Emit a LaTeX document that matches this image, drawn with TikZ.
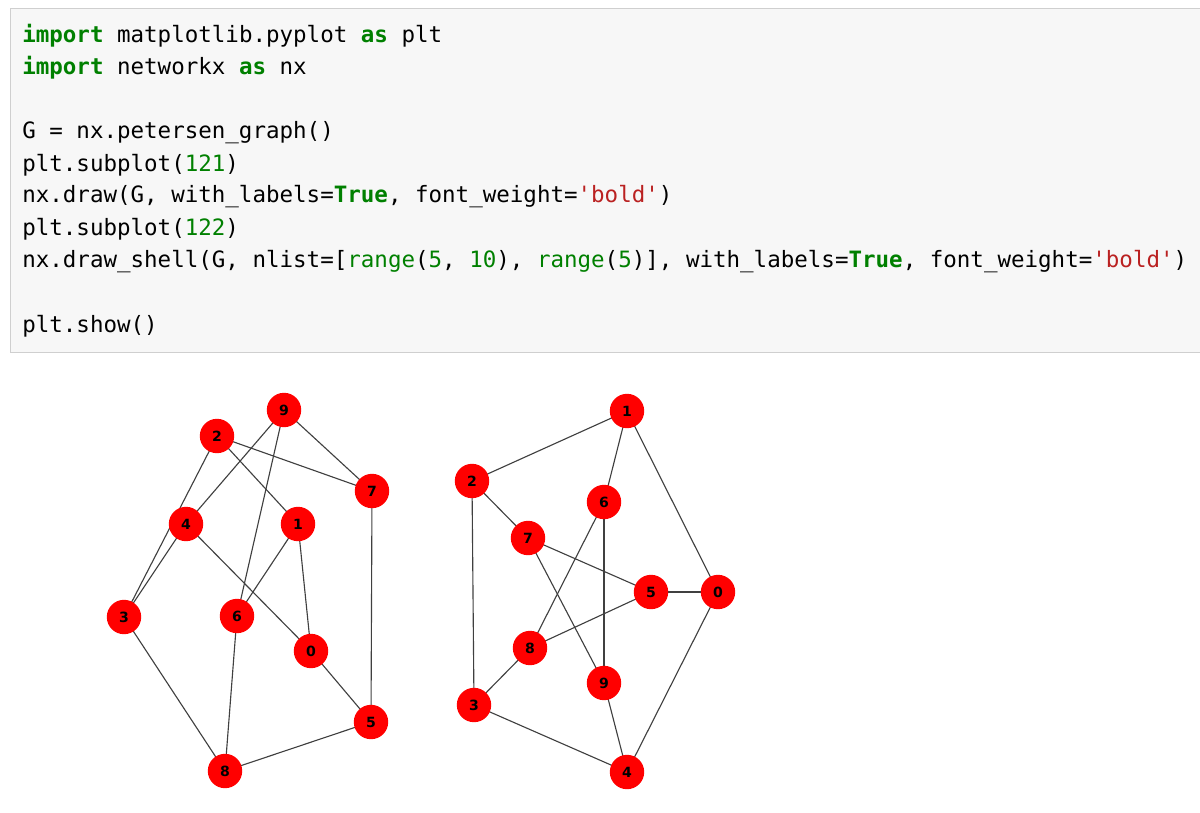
\documentclass[tikz,border=0pt]{standalone}
\usepackage{fontspec}
\setmonofont{DejaVu Sans Mono}
\setsansfont{DejaVu Sans}
\usetikzlibrary{positioning,backgrounds}
\definecolor{kw}{HTML}{008000}
\definecolor{str}{HTML}{BA2121}
\definecolor{cellbg}{HTML}{F7F7F7}
\definecolor{cellrule}{HTML}{CFCFCF}
\newcommand{\kw}[1]{\textcolor{kw}{\bfseries #1}}
\newcommand{\num}[1]{\textcolor{kw}{#1}}
\newcommand{\str}[1]{\textcolor{str}{#1}}

\begin{document}
\begin{tikzpicture}[x=0.025cm, y=-0.025cm]
\tikzset{
   codeline/.style = {anchor = west, inner sep = 0pt, font = \ttfamily\fontsize{16}{16}\selectfont},
   vertex/.style = {circle, fill = red, minimum size = 0.86cm, inner sep = 0pt, font = \sffamily\bfseries\fontsize{10}{10}\selectfont},
   link/.style = {draw = black!75, line width = 0.8pt}
 }
  \useasboundingbox (0,0) rectangle (1200,812);
  \draw[fill = cellbg, draw = cellrule] (10,8) rectangle (1210,352);

  % code cell
  \node[codeline] (l1) at (22,36) {\kw{import} matplotlib.pyplot \kw{as} plt};
  \node[codeline] (l2) at (22,68) {\kw{import} networkx \kw{as} nx};
  \node[codeline] (l3) at (22,133) {G = nx.petersen\_graph()};
  \node[codeline] (l4) at (22,165) {plt.subplot(\num{121})};
  \node[codeline] (l5) at (22,197) {nx.draw(G, with\_labels=\kw{True}, font\_weight=\str{\textquotesingle bold\textquotesingle})};
  \node[codeline] (l6) at (22,229) {plt.subplot(\num{122})};
  \node[codeline] (l7) at (22,262) {nx.draw\_shell(G, nlist=[\num{range}(\num{5}, \num{10}), \num{range}(\num{5})], with\_labels=\kw{True}, font\_weight=\str{\textquotesingle bold\textquotesingle})};
  \node[codeline] (l8) at (22,326) {plt.show()};

  % spring layout
  \node[vertex] (a9) at (284,410) {9};
  \node[vertex] (a2) at (217,436) {2};
  \node[vertex] (a7) at (372,491) {7};
  \node[vertex] (a4) at (186,524) {4};
  \node[vertex] (a1) at (298,524) {1};
  \node[vertex] (a3) at (124,617) {3};
  \node[vertex] (a6) at (237,616) {6};
  \node[vertex] (a0) at (311,651) {0};
  \node[vertex] (a5) at (371,722) {5};
  \node[vertex] (a8) at (225,771) {8};

  % shell layout
  \node[vertex] (b1) at (627,411) {1};
  \node[vertex] (b2) at (472,481) {2};
  \node[vertex] (b6) at (604,502) {6};
  \node[vertex] (b7) at (528,538) {7};
  \node[vertex] (b5) at (651,592) {5};
  \node[vertex] (b0) at (718,592) {0};
  \node[vertex] (b8) at (530,648) {8};
  \node[vertex] (b9) at (604,683) {9};
  \node[vertex] (b3) at (474,705) {3};
  \node[vertex] (b4) at (627,772) {4};

  \begin{scope}[on background layer]
  \foreach \g in {a,b}
    \foreach \u/\v in {0/1,0/4,0/5,1/2,1/6,2/3,2/7,3/4,3/8,4/9,5/7,5/8,6/8,6/9,7/9}
      \draw[link] (\g\u.center) -- (\g\v.center);
  \end{scope}
\end{tikzpicture}
\end{document}
